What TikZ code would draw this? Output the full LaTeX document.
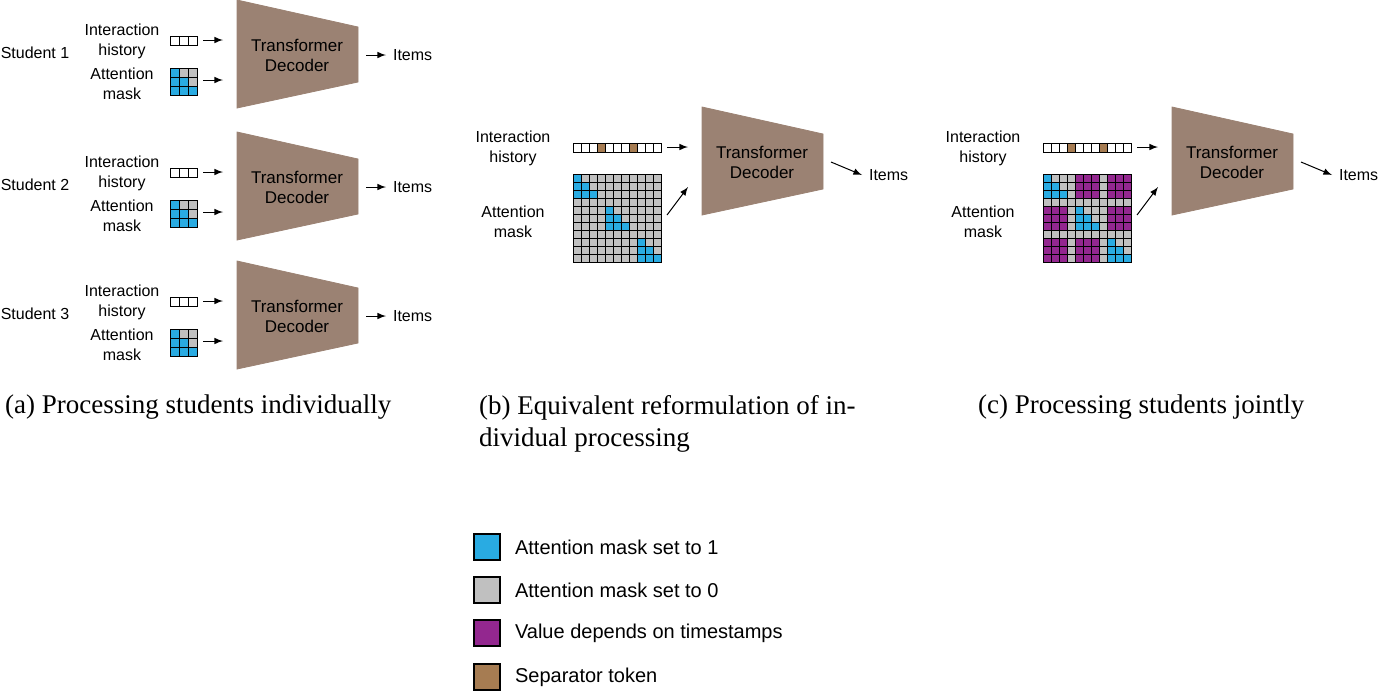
\documentclass[tikz,border=0pt]{standalone}
\usepackage{fontspec}
\setmainfont{Liberation Serif}
\newfontfamily\lblfont{Liberation Sans}
\usetikzlibrary{positioning}
\definecolor{maskone}{RGB}{41,171,226}
\definecolor{maskzero}{RGB}{192,192,192}
\definecolor{maskdep}{RGB}{147,39,143}
\definecolor{septok}{RGB}{166,124,82}
\definecolor{decfill}{RGB}{155,130,115}
\tikzset{
  lbl/.style={font=\lblfont\fontsize{8}{10}\selectfont, align=center},
  leg/.style={font=\lblfont\fontsize{10}{12}\selectfont, anchor=west},
  captxt/.style={font=\fontsize{13.5}{16}\selectfont, anchor=north west, align=left},
  cell/.style={draw=black, line width=0.5pt},
  arr/.style={-latex, line width=0.5pt},
}
% mask grid: #1 x, #2 y, #3 joint (0/1)
\newcommand\maskgrid[3]{%
  \foreach \r in {0,...,10}{\foreach \c in {0,...,10}{
    \pgfmathtruncatemacro\mbr{{0,0,0,-1,1,1,1,-1,2,2,2}[\r]}
    \pgfmathtruncatemacro\mbc{{0,0,0,-1,1,1,1,-1,2,2,2}[\c]}
    \pgfmathtruncatemacro\mpr{{0,1,2,-1,0,1,2,-1,0,1,2}[\r]}
    \pgfmathtruncatemacro\mpc{{0,1,2,-1,0,1,2,-1,0,1,2}[\c]}
    \pgfmathtruncatemacro\mcode{(\mbr<0 || \mbc<0) ? 0 : ((\mbr==\mbc) ? ((\mpc<=\mpr) ? 1 : 0) : 2*#3)}
    \ifcase\mcode\def\mcol{maskzero}\or\def\mcol{maskone}\or\def\mcol{maskdep}\fi
    \draw[cell, fill=\mcol] (#1+8*\c,#2+8*\r) rectangle ++(8,8);
  }}}
% history strip: #1 x, #2 y
\newcommand\histstrip[2]{%
  \foreach \c in {0,...,10}{
    \pgfmathtruncatemacro\msep{(\c==3 || \c==7) ? 1 : 0}
    \ifnum\msep=1\def\mcol{septok}\else\def\mcol{white}\fi
    \draw[cell, fill=\mcol] (#1+8*\c,#2) rectangle ++(8,9);
  }}
% decoder trapezoid with name: #1 name, #2 left x, #3 top y
\newcommand\decoder[3]{%
  \draw[decfill, fill=decfill] (#2,#3) -- (#2+121,#3+27) -- (#2+121,#3+82) -- (#2,#3+108) -- cycle;
  \node[lbl, font=\lblfont\fontsize{8.5}{10}\selectfont] (#1) at (#2+60,#3+55) {Transformer\\Decoder};
  \coordinate (#1-in1) at (#2-14,#3+40);
  \coordinate (#1-in2) at (#2-14,#3+80);
  \coordinate (#1-out) at (#2+129,#3+55);
}
\begin{document}
\begin{tikzpicture}[x=0.5pt, y=-0.5pt]
\useasboundingbox (0,0) rectangle (1379,692);

% (a) students individually
\foreach \s/\y in {1/0, 2/132, 3/261}{
  \node[lbl] (stu\s) at (35,\y+53) {Student \s};
  \node[lbl] (hist\s) at (122,\y+41) {Interaction\\history};
  \node[lbl] (att\s) at (122,\y+84) {Attention\\mask};
  \foreach \c in {0,1,2}{\draw[cell, fill=white] (170+9*\c,\y+36) rectangle ++(9,9);}
  \foreach \r in {0,1,2}{\foreach \c in {0,1,2}{
    \pgfmathtruncatemacro\mcode{(\c<=\r) ? 1 : 0}
    \ifnum\mcode=1\def\mcol{maskone}\else\def\mcol{maskzero}\fi
    \draw[cell, fill=\mcol] (170+9*\c,\y+68+9*\r) rectangle ++(9,9);}}
  \decoder{deca\s}{237}{\y}
  \coordinate (ha\s) at (203,\y+40);
  \coordinate (ma\s) at (203,\y+80);
  \draw[arr] (ha\s) -- (deca\s-in1);
  \draw[arr] (ma\s) -- (deca\s-in2);
  \node[lbl, anchor=west] (itema\s) at (386,\y+55) {Items};
  \draw[arr] (deca\s-out) -- (itema\s.west);
}

% (b) equivalent reformulation
\node[lbl] (histb) at (513,148) {Interaction\\history};
\node[lbl] (attb) at (513,222) {Attention\\mask};
\histstrip{573}{143}
\maskgrid{573}{174}{0}
\decoder{decb}{702}{107}
\coordinate (hb) at (667,147);
\coordinate (mb) at (667,215);
\draw[arr] (hb) -- (decb-in1);
\draw[arr] (mb) -- (decb-in2);
\node[lbl, anchor=west] (itemb) at (862,175) {Items};
\draw[arr] (decb-out) -- (itemb.west);

% (c) students jointly
\node[lbl] (histc) at (983,148) {Interaction\\history};
\node[lbl] (attc) at (983,222) {Attention\\mask};
\histstrip{1043}{143}
\maskgrid{1043}{174}{1}
\decoder{decc}{1172}{107}
\coordinate (hc) at (1137,147);
\coordinate (mc) at (1137,215);
\draw[arr] (hc) -- (decc-in1);
\draw[arr] (mc) -- (decc-in2);
\node[lbl, anchor=west] (itemc) at (1332,175) {Items};
\draw[arr] (decc-out) -- (itemc.west);

% captions
\node[captxt] (capa) at (-2,388) {(a) Processing students individually};
\node[captxt] (capb) at (472,388) {(b) Equivalent reformulation of in-\\dividual processing};
\node[captxt] (capc) at (971,388) {(c) Processing students jointly};

% legend
\foreach \k/\col/\txt/\y in {1/maskone/Attention mask set to 1/547, 2/maskzero/Attention mask set to 0/590, 3/maskdep/Value depends on timestamps/633, 4/septok/Separator token/677}{
  \draw[line width=1.2pt, fill=\col] (474,\y-13) rectangle ++(26,26);
  \node[leg] (leg\k) at (508,\y) {\txt};
}
\end{tikzpicture}
\end{document}
